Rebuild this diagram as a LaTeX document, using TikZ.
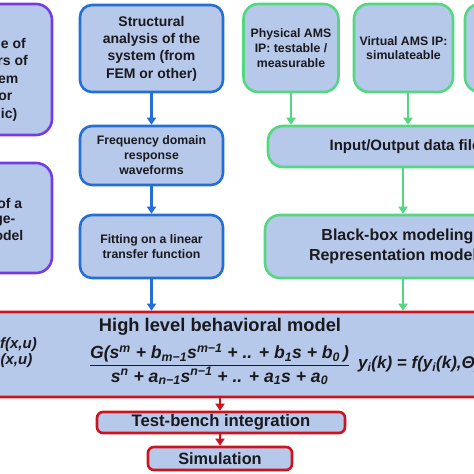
\documentclass[tikz,border=0pt]{standalone}
\usepackage{fontspec}
\setmainfont{Liberation Sans}
\usetikzlibrary{arrows.meta}
\definecolor{boxfill}{RGB}{183,201,234}
\definecolor{bblue}{RGB}{35,110,215}
\definecolor{bgreen}{RGB}{85,215,130}
\definecolor{bpurple}{RGB}{115,60,230}
\definecolor{bred}{RGB}{205,20,30}
\definecolor{txt}{RGB}{25,25,30}
\tikzset{
  box/.style={fill=boxfill, line width=2.6pt, inner sep=0pt, align=center, text=txt, font=\bfseries},
  bluebox/.style={box, draw=bblue, rounded corners=12pt},
  greenbox/.style={box, draw=bgreen, rounded corners=15pt},
  purplebox/.style={box, draw=bpurple, rounded corners=16pt},
  redbox/.style={box, draw=bred, rounded corners=6pt},
  plain/.style={inner sep=0pt, text=txt, font=\bfseries},
  arr/.style={line width=2.4pt, -{Triangle[width=9pt,length=7pt]}},
}
\newcommand\fs[2]{\fontsize{#1}{#2}\selectfont}
\begin{document}
\begin{tikzpicture}[x=1pt,y=-1pt]
\useasboundingbox (0,0) rectangle (474,474);
\clip (0,0) rectangle (474,474);
\fill[white] (0,0) rectangle (474,474);

% purple boxes (cut at left)
\node[purplebox, minimum width=150pt, minimum height=131pt] (p1) at (-23,69.5) {};
\node[plain, anchor=east, font=\bfseries\fs{14}{17}] (p1a) at (26,45) {Knowledge of};
\node[plain, anchor=east, font=\bfseries\fs{14}{17}] (p1b) at (28,62) {parameters of};
\node[plain, anchor=east, font=\bfseries\fs{14}{17}] (p1c) at (18.5,80) {the system};
\node[plain, anchor=east, font=\bfseries\fs{14}{17}] (p1d) at (12.5,97) {(linear or};
\node[plain, anchor=east, font=\bfseries\fs{14}{17}] (p1e) at (17.5,115) {mechanic)};

\node[purplebox, minimum width=150pt, minimum height=110pt] (p2) at (-23,218) {};
\node[plain, anchor=east, font=\bfseries\fs{14}{17}] (p2a) at (22.5,203) {Existence of a};
\node[plain, anchor=east, font=\bfseries\fs{14}{17}] (p2b) at (15.5,220) {large-};
\node[plain, anchor=east, font=\bfseries\fs{14}{17}] (p2c) at (23.5,237) {signal model};

% blue column
\node[bluebox, minimum width=143pt, minimum height=87pt, font=\bfseries\fs{14}{17.3}] (b1) at (151.5,48.5)
  {Structural\\analysis of the\\system (from\\FEM or other)};
\node[bluebox, minimum width=143pt, minimum height=59pt, font=\bfseries\fs{12.3}{15}] (b2) at (151.5,155.5)
  {Frequency domain\\response\\waveforms};
\node[bluebox, minimum width=143pt, minimum height=63pt, font=\bfseries\fs{12.3}{14.5}] (b3) at (151.5,246.5)
  {Fitting on a linear\\transfer function};

% green column
\node[greenbox, minimum width=95pt, minimum height=88pt, font=\bfseries\fs{12.3}{14.7}] (g1) at (291,48)
  {Physical AMS\\IP: testable /\\measurable};
\node[greenbox, minimum width=99pt, minimum height=88pt, font=\bfseries\fs{12.3}{14}] (g2) at (403.5,48)
  {Virtual AMS IP:\\simulateable};
\node[greenbox, minimum width=100pt, minimum height=88pt] (g3) at (515,48) {};
\node[greenbox, minimum width=274pt, minimum height=41pt, font=\bfseries\fs{15}{18}] (io) at (405,146.5)
  {Input/Output data file};
\node[greenbox, minimum width=265pt, minimum height=63pt, font=\bfseries\fs{16}{20}] (bb) at (397.5,246.5)
  {Black-box modeling\\Representation models};

% red
\node[redbox, rounded corners=4pt, minimum width=520pt, minimum height=85pt] (hl) at (237,354.5) {};
\node[plain, font=\bfseries\fs{18.3}{20}] (hlt) at (220,327) {High level behavioral model};
\node[plain, font=\bfseries\itshape\fs{17.6}{20}] (frac) at (219.5,366) {%
  \setlength{\arrayrulewidth}{1.3pt}%
  \begin{tabular}{@{}c@{}}
  G(s\textsuperscript{m} + b\textsubscript{m−1}s\textsuperscript{m−1} + .. + b\textsubscript{1}s + b\textsubscript{0}\,)\rule[-5pt]{0pt}{15pt}\\ \hline
  s\textsuperscript{n} + a\textsubscript{n−1}s\textsuperscript{n−1} + .. + a\textsubscript{1}s + a\textsubscript{0}\rule{0pt}{16pt}
  \end{tabular}};
\node[plain, anchor=west, font=\bfseries\itshape\fs{17}{20}] (yeq) at (358,364)
  {y\textsubscript{i}(k) = f(y\textsubscript{i}(k),Θ)};
\node[plain, anchor=east, font=\bfseries\itshape\fs{15}{18}] (fx) at (37,345) {x = f(x,u)};
\node[plain, anchor=east, font=\bfseries\itshape\fs{15}{18}] (gx) at (32.5,361) {y = g(x,u)};

\node[redbox, minimum width=248pt, minimum height=21pt, font=\bfseries\fs{16.7}{18}] (tb) at (221,422.5)
  {Test-bench integration};
\node[redbox, minimum width=144pt, minimum height=23pt, font=\bfseries\fs{16.3}{18}] (sim) at (220,458.5)
  {Simulation};

% helper coordinates for arrow columns
\coordinate (gcol) at (403,0);
\coordinate (vcol) at (408,0);
\coordinate (rcol) at (220,0);

% arrows
\draw[arr, bblue] (b1) -- (b2);
\draw[arr, bblue] (b2) -- (b3);
\draw[arr, bblue] (b3.south) -- (hl.north -| b3.south);
\draw[arr, bgreen] (g1.south) -- (io.north -| g1.south);
\draw[arr, bgreen] (g2.south -| vcol) -- (io.north -| vcol);
\draw[arr, bgreen] (io.south -| gcol) -- (bb.north -| gcol);
\draw[arr, bgreen] (bb.south -| gcol) -- (hl.north -| gcol);
\draw[arr, bred] (hl.south -| rcol) -- (tb.north -| rcol);
\draw[arr, bred] (tb.south -| rcol) -- (sim.north -| rcol);
\end{tikzpicture}
\end{document}
